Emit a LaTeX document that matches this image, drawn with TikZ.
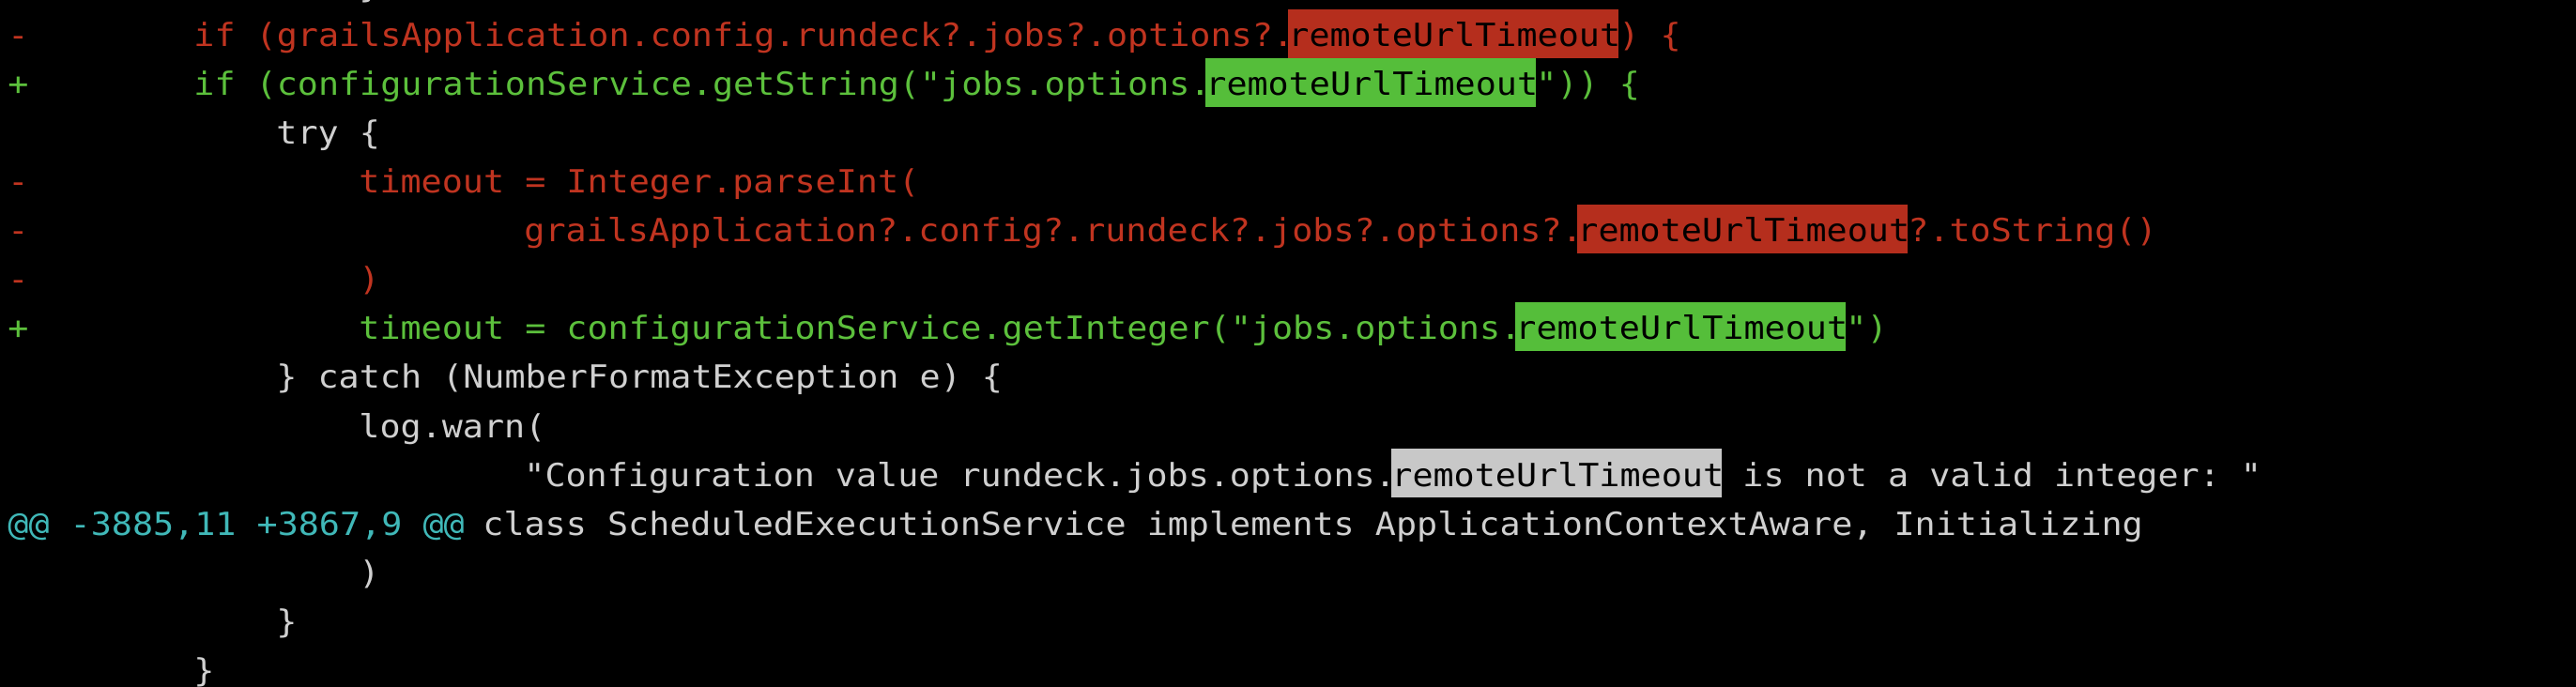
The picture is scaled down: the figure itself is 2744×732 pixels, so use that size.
\documentclass[tikz,border=0pt]{standalone}
\usepackage{fontspec}
\setmonofont[FakeStretch=1.08]{DejaVu Sans Mono}
\definecolor{redtxt}{RGB}{192,52,32}
\definecolor{redbg}{RGB}{181,46,29}
\definecolor{greentxt}{RGB}{92,192,60}
\definecolor{greenbg}{RGB}{85,190,58}
\definecolor{whitetxt}{RGB}{208,208,208}
\definecolor{graybg}{RGB}{200,200,200}
\definecolor{hunk}{RGB}{64,184,184}
\newcommand\seg[5]{\node[codetext,text=#4] (#1) at ({8+22*#2},{50+52*(#3-1)}) {#5};}
\newcommand\hl[4]{\fill[#4] ({8+22*#1},{10+52*(#2-1)}) rectangle ++({22*#3},52);}
\begin{document}
\begin{tikzpicture}[x=0.5pt,y=-0.5pt,
  codetext/.style={anchor=base west,inner sep=0pt,font=\ttfamily\fontsize{17pt}{20pt}\selectfont}]
\fill[black] (0,0) rectangle (2744,732);
\useasboundingbox (0,0) rectangle (2744,732);
\clip (0,0) rectangle (2744,732);
% highlights
\hl{62}{1}{16}{redbg}
\hl{58}{2}{16}{greenbg}
\hl{76}{5}{16}{redbg}
\hl{73}{7}{16}{greenbg}
\hl{67}{10}{16}{graybg}
% line 0
\seg{l0}{17}{0}{whitetxt}{\}}
% line 1
\seg{m1}{0}{1}{redtxt}{-}
\seg{a1}{9}{1}{redtxt}{if (grailsApplication.config.rundeck?.jobs?.options?.}
\seg{h1}{62}{1}{black}{remoteUrlTimeout}
\seg{b1}{78}{1}{redtxt}{) \{}
% line 2
\seg{m2}{0}{2}{greentxt}{+}
\seg{a2}{9}{2}{greentxt}{if (configurationService.getString("jobs.options.}
\seg{h2}{58}{2}{black}{remoteUrlTimeout}
\seg{b2}{74}{2}{greentxt}{")) \{}
% line 3
\seg{a3}{13}{3}{whitetxt}{try \{}
% line 4
\seg{m4}{0}{4}{redtxt}{-}
\seg{a4}{17}{4}{redtxt}{timeout = Integer.parseInt(}
% line 5
\seg{m5}{0}{5}{redtxt}{-}
\seg{a5}{25}{5}{redtxt}{grailsApplication?.config?.rundeck?.jobs?.options?.}
\seg{h5}{76}{5}{black}{remoteUrlTimeout}
\seg{b5}{92}{5}{redtxt}{?.toString()}
% line 6
\seg{m6}{0}{6}{redtxt}{-}
\seg{a6}{17}{6}{redtxt}{)}
% line 7
\seg{m7}{0}{7}{greentxt}{+}
\seg{a7}{17}{7}{greentxt}{timeout = configurationService.getInteger("jobs.options.}
\seg{h7}{73}{7}{black}{remoteUrlTimeout}
\seg{b7}{89}{7}{greentxt}{")}
% line 8
\seg{a8}{13}{8}{whitetxt}{\} catch (NumberFormatException e) \{}
% line 9
\seg{a9}{17}{9}{whitetxt}{log.warn(}
% line 10
\seg{a10}{25}{10}{whitetxt}{"Configuration value rundeck.jobs.options.}
\seg{h10}{67}{10}{black}{remoteUrlTimeout}
\seg{b10}{84}{10}{whitetxt}{is not a valid integer: "}
% line 11
\seg{a11}{0}{11}{hunk}{@@ -3885,11 +3867,9 @@}
\seg{b11}{23}{11}{whitetxt}{class ScheduledExecutionService implements ApplicationContextAware, Initializing}
% lines 12-14
\seg{a12}{17}{12}{whitetxt}{)}
\seg{a13}{13}{13}{whitetxt}{\}}
\seg{a14}{9}{14}{whitetxt}{\}}
\end{tikzpicture}
\end{document}
